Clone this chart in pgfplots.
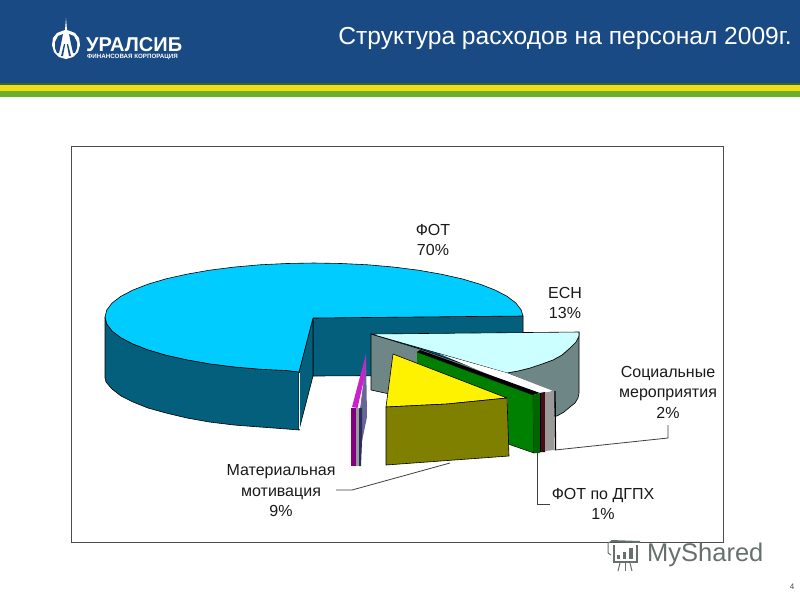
\documentclass[border=0pt]{standalone}
\usepackage{fontspec}
\usepackage{pgfplots}
\pgfplotsset{compat=1.18}
\setmainfont{Liberation Sans}
\definecolor{hdrblue}{HTML}{1A4A84}
\definecolor{hdrdark}{HTML}{2E6A3A}
\definecolor{hdryellow}{HTML}{F2DE14}
\definecolor{hdrgreen}{HTML}{6CAE2C}
\definecolor{fottop}{HTML}{00CCFF}
\definecolor{fotside}{HTML}{045F7C}
\definecolor{esntop}{HTML}{CCFFFF}
\definecolor{esnside}{HTML}{6E8686}
\definecolor{dgreen}{HTML}{008000}
\definecolor{dgreen2}{HTML}{006400}
\definecolor{maroon}{HTML}{4A0A14}
\definecolor{stripgray}{HTML}{9A9A9A}
\definecolor{olivep}{HTML}{808000}
\definecolor{magtop}{HTML}{CC20CC}
\definecolor{magwall}{HTML}{800080}
\definecolor{navyp}{HTML}{2C2C60}
\definecolor{perip}{HTML}{666699}
\definecolor{wm}{HTML}{66716F}
\definecolor{labeltxt}{HTML}{1A1A1A}
% filled polygon, coordinates in picture pixels
\newcommand{\poly}[2]{\addplot[fill=#1,draw=none] coordinates {#2} --cycle;}
\newcommand{\opoly}[2]{\addplot[fill=#1,draw=black,line width=0.6pt,line join=round] coordinates {#2} --cycle;}
\tikzset{lbl/.style={font=\fontsize{16}{20.5}\selectfont,align=center,text=labeltxt}}
\begin{document}
\begin{tikzpicture}
\begin{axis}[
    width=800pt, height=600pt, scale only axis,
    xmin=0, xmax=800, ymin=0, ymax=600,
    y dir=reverse,
    hide axis,
    clip=true
]
% header
\poly{white}{(0,0)(800,0)(800,600)(0,600)}
\poly{hdrblue}{(0,0)(800,0)(800,83)(0,83)}
\poly{hdrdark}{(0,83)(800,83)(800,84.5)(0,84.5)}
\poly{hdryellow}{(0,84.5)(800,84.5)(800,91)(0,91)}
\poly{hdrgreen}{(0,91)(800,91)(800,97)(0,97)}
% logo
\poly{white}{(66,18)(67,30)(70,31)(75,33)(79,38)(80,45)(78,52)(73,57)(66,59)(59,57)(54,52)(52,45)(53,38)(57,33)(62,31)(65,30)}
\poly{hdrblue}{(63,34)(58,36)(55,42)(55,48)(57,53)(59,53)(61,44)}
\poly{hdrblue}{(69,34)(74,36)(77,42)(77,48)(75,53)(73,53)(71,44)}
\poly{hdrblue}{(64,44)(65.2,44)(63,56)(61,56)}
\poly{hdrblue}{(68,44)(66.8,44)(69,56)(71,56)}
\node[text=white,font=\fontsize{20}{20}\selectfont\bfseries,anchor=base west,inner sep=0pt,text depth=0pt] at (axis cs:86,51) {УРАЛСИБ};
\node[text=white,font=\fontsize{6.2}{6.2}\selectfont\bfseries,anchor=base west,inner sep=0pt,text height=4.4pt] at (axis cs:87,58) {ФИНАНСОВАЯ КОРПОРАЦИЯ};
\node[text=white,font=\fontsize{24.6}{24.6}\selectfont,anchor=east,inner sep=0pt] at (axis cs:792,38.5) {Структура расходов на персонал 2009г.};
% frame
\addplot[draw=black!70,line width=0.9pt] coordinates {(71,146)(723,146)(723,542)(71,542)} --cycle;
% FOT wedge
\opoly{fotside}{(313,318)(523,316)(523,375)(313,376)}
\opoly{fotside}{(313,318)(299,372)(299,430)(313,376)}
\opoly{fotside}{(105,317)(106.8,324)(112.1,331)(120.9,337.7)(133,344)(148.2,349.9)(166.2,355.2)(186.8,359.8)(209.5,363.8)(234,366.9)(259.9,369.2)(286.7,370.5)(299,372)(299,430)(287,429)(260,427)(234,425)(209.5,422)(187,418)(166,413)(148,408)(133,402)(121,396)(112,389)(106,382)(105,378)}
\opoly{fottop}{(313,318)(523,316)(521.2,310)(515.9,303)(507.1,296.3)(495,290)(479.8,284.1)(461.8,278.8)(441.2,274.2)(418.5,270.2)(394,267.1)(368.1,264.8)(341.3,263.5)(314,263)(286.7,263.5)(259.9,264.8)(234,267.1)(209.5,270.2)(186.8,274.2)(166.2,278.8)(148.2,284.1)(133,290)(120.9,296.3)(112.1,303)(106.8,310)(105,317)(106.8,324)(112.1,331)(120.9,337.7)(133,344)(148.2,349.9)(166.2,355.2)(186.8,359.8)(209.5,363.8)(234,366.9)(259.9,369.2)(286.7,370.5)(299,372)}
\addplot[draw=white,line width=0.7pt] coordinates {(299,373)(299,429)};
% ESN wedge
\opoly{esnside}{(371,334)(420,349)(510,380)(510,420)(371,390)}
\opoly{esnside}{(579,332)(579,336)(576,342)(570,348)(562,355)(553,360)(542,364)(530,368)(518,371)(507,373)(553,392)(553,416)(557,416)(564,412)(570,407)(575,403)(578,398)(579,393)}
\opoly{esntop}{(371,334)(579,332)(579,336)(576,342)(570,348)(562,355)(553,360)(542,364)(530,368)(518,371)(507,373)}
% social / DGPH strips
\poly{white}{(440,354)(507,373)(553,391)(545,393)(540,393)(490,375)}
\poly{black}{(420,350)(540,393)(533,395)(417,352)}
\poly{dgreen}{(417,352)(533,395)(534,453)(508,444)(508,398)(417,400)}
\addplot[draw=black,line width=0.5pt] coordinates {(417,352)(533,395)(534,453)(508,444)};
\poly{dgreen2}{(533,395)(540,393)(540,453)(534,453)}
\poly{black}{(540,393)(545,392)(545,452)(540,452)}
\poly{maroon}{(541,393)(545,392.5)(545,451)(541,452)}
\poly{stripgray}{(545,392.5)(554,391)(554.5,450)(545,451)}
\addplot[draw=black,line width=1.3pt] coordinates {(555,391)(555.5,450)};
% bonus wedge
\opoly{yellow}{(393,354)(386,407)(447,404)(507,398)}
\opoly{olivep}{(386,407)(447,404)(507,398)(509,456)(386,465)}
% material motivation wedge
\poly{perip}{(360,408)(366,354)(367,417)(362,441)(360,462)}
\poly{navyp}{(359,408)(362,408)(362,441)(361,466)(359,466)}
\poly{white}{(357.5,408)(360,408)(363,385)(364.5,365)}
\poly{magtop}{(366,354)(352,407)(357.5,408)(365,375)}
\poly{magwall}{(351,408)(356,408)(356,466)(351,466)}
\poly{stripgray}{(356,408)(359,408)(359,466)(356,466)}
% leader lines
\addplot[draw=black!75,line width=0.8pt] coordinates {(555,450)(668,438)(668,425)};
\addplot[draw=black!75,line width=0.8pt] coordinates {(537,453)(537,504)(550,504)};
\addplot[draw=black!75,line width=0.8pt] coordinates {(336,490)(352,490)(450,463)};
% labels
\node[lbl] at (axis cs:433,240) {ФОТ\\70\%};
\node[lbl] at (axis cs:565,303) {ЕСН\\13\%};
\node[lbl] at (axis cs:668,392) {Социальные\\мероприятия\\2\%};
\node[lbl] at (axis cs:281,491) {Материальная\\мотивация\\9\%};
\node[lbl] at (axis cs:603,504) {ФОТ по ДГПХ\\1\%};
% watermark
\addplot[draw=wm,line width=1.4pt] coordinates {(614,545)(614,562)(637,562)(637,545)};
\addplot[draw=wm,line width=2pt] coordinates {(611,541)(640,542)};
\addplot[draw=wm,line width=1pt] coordinates {(612,541)(608,543)(608,553)(611,555)};
\poly{wm}{(617,555)(620,555)(620,559)(617,559)}
\poly{wm}{(623,552)(626,552)(626,559)(623,559)}
\poly{wm}{(629,548)(633,548)(633,559)(629,559)}
\addplot[draw=wm,line width=1pt] coordinates {(620,563)(618,571)};
\addplot[draw=wm,line width=1pt] coordinates {(625,563)(625,571)};
\addplot[draw=wm,line width=1pt] coordinates {(630,563)(632,571)};
\node[font=\fontsize{25.5}{25.5}\selectfont,text=wm,anchor=west,inner sep=0pt] at (axis cs:647,555) {MyShared};
\node[font=\fontsize{8}{8}\selectfont,text=black!70] at (axis cs:792,587) {4};
\end{axis}
\end{tikzpicture}
\end{document}
